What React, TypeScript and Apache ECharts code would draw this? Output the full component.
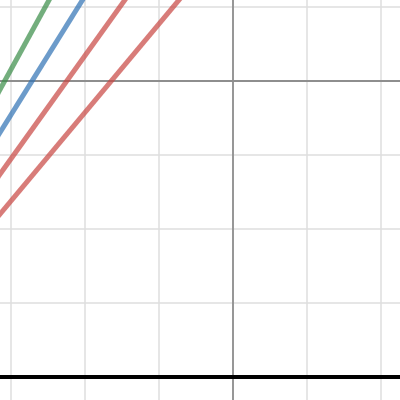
import { useEffect, useRef } from "react";
import * as echarts from "echarts";

// graph window (one grid square = 1 unit)
const X_MIN = -4;
const X_MAX = 3;
const Y_MIN = -5;
const Y_MAX = 2;

// the four sloped lines, two points each
const greenLine = [[-3.3, -0.39], [-2.4, 1.25]];
const blueLine = [[-3.3, -0.94], [-1.9, 1.31]];
const redLineA = [[-3.3, -1.47], [-1.3, 1.32]];
const redLineB = [[-3.3, -1.98], [-0.5, 1.37]];

// the thick black horizontal line
const floorLine = [[-5, -4], [4, -4]];

const PX_PER_UNIT = 74;
const ORIGIN_X = 232.5;
const ORIGIN_Y = 80.7;

export default function App() {
  const ref = useRef<HTMLDivElement | null>(null);

  useEffect(() => {
    if (!ref.current) return;
    const chart = echarts.init(ref.current, undefined, { renderer: "svg" });

    const gridLine = { show: true, lineStyle: { color: "#dedede", width: 1.5 } };
    const axisLine = { show: true, onZero: true, lineStyle: { color: "#8e8e8e", width: 1.8 } };
    const sloped = (data: number[][], color: string) => ({
      type: "line",
      data,
      symbol: "none",
      silent: true,
      z: 5,
      lineStyle: { color, width: 5, opacity: 0.7 },
    });

    chart.setOption({
      animation: false,
      grid: { left: 0, top: 0, right: 0, bottom: 0, containLabel: false },
      xAxis: {
        type: "value",
        min: X_MIN,
        max: X_MAX,
        interval: 1,
        axisLine,
        axisTick: { show: false },
        axisLabel: { show: false },
        splitLine: gridLine,
      },
      yAxis: {
        type: "value",
        min: Y_MIN,
        max: Y_MAX,
        interval: 1,
        axisLine,
        axisTick: { show: false },
        axisLabel: { show: false },
        splitLine: gridLine,
      },
      series: [
        {
          type: "line",
          data: floorLine,
          symbol: "none",
          silent: true,
          z: 4,
          lineStyle: { color: "#000000", width: 4 },
        },
        sloped(redLineB, "#c74440"),
        sloped(redLineA, "#c74440"),
        sloped(blueLine, "#2d70b3"),
        sloped(greenLine, "#388c46"),
      ],
    });

    return () => chart.dispose();
  }, []);

  const w = (X_MAX - X_MIN) * PX_PER_UNIT;
  const h = (Y_MAX - Y_MIN) * PX_PER_UNIT;

  return (
    <div
      style={{
        position: "fixed",
        left: 0,
        top: 0,
        width: 400,
        height: 400,
        overflow: "hidden",
        background: "#fff",
      }}
    >
      <div
        ref={ref}
        style={{
          position: "absolute",
          left: ORIGIN_X + X_MIN * PX_PER_UNIT,
          top: ORIGIN_Y - Y_MAX * PX_PER_UNIT,
          width: w,
          height: h,
        }}
      />
    </div>
  );
}
